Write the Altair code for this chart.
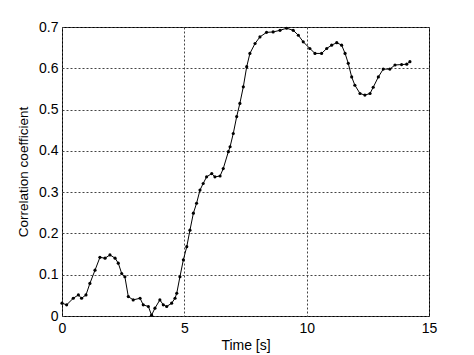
import altair as alt
import pandas as pd

time_s = [0.0, 0.19, 0.46, 0.67, 0.8, 0.98, 1.14, 1.35, 1.55, 1.76, 1.96, 2.17, 2.3, 2.44,
          2.57, 2.71, 2.91, 3.19, 3.32, 3.53, 3.66, 3.8, 4.0, 4.14, 4.28, 4.48, 4.62, 4.69,
          4.82, 4.96, 5.1, 5.23, 5.37, 5.5, 5.64, 5.77, 5.91, 6.12, 6.25, 6.46, 6.59, 6.8,
          6.87, 7.0, 7.14, 7.27, 7.41, 7.55, 7.68, 7.89, 8.09, 8.36, 8.63, 8.91, 9.18, 9.45,
          9.66, 9.86, 10.13, 10.34, 10.61, 10.82, 11.02, 11.23, 11.43, 11.57, 11.7, 11.84,
          11.97, 12.18, 12.38, 12.59, 12.72, 12.93, 13.13, 13.4, 13.61, 13.88, 14.09, 14.22]
corr = [0.031, 0.027, 0.043, 0.051, 0.043, 0.051, 0.079, 0.111, 0.142, 0.14, 0.148, 0.14,
        0.128, 0.103, 0.095, 0.047, 0.039, 0.043, 0.027, 0.023, 0.002, 0.019, 0.039, 0.027,
        0.023, 0.031, 0.043, 0.055, 0.095, 0.136, 0.168, 0.208, 0.249, 0.273, 0.305, 0.321,
        0.337, 0.345, 0.337, 0.339, 0.357, 0.398, 0.41, 0.442, 0.483, 0.515, 0.555, 0.604,
        0.636, 0.66, 0.676, 0.687, 0.688, 0.692, 0.697, 0.692, 0.68, 0.664, 0.648, 0.636,
        0.636, 0.648, 0.656, 0.662, 0.656, 0.636, 0.612, 0.579, 0.559, 0.539, 0.535, 0.539,
        0.554, 0.579, 0.598, 0.598, 0.608, 0.609, 0.61, 0.616]

x_ticks = [0, 5, 10, 15]
y_ticks = [0, 0.1, 0.2, 0.3, 0.4, 0.5, 0.6, 0.7]

df = pd.DataFrame({"t": time_s, "r": corr})

FONT = "Liberation Sans"
common = dict(grid=True, ticks=False, domain=False, labelFlush=False,
              titleFontWeight="normal", gridColor="#444", gridDash=[2, 2], gridWidth=1,
              labelColor="black", titleColor="black", labelFont=FONT, titleFont=FONT,
              labelFontSize=14)

x = alt.X("t:Q", scale=alt.Scale(domain=[0, 15], nice=False, zero=False),
          axis=alt.Axis(values=x_ticks, title="Time [s]", titleFontSize=14,
                        labelPadding=5, titlePadding=3, **common))
y = alt.Y("r:Q", scale=alt.Scale(domain=[0, 0.7], nice=False),
          axis=alt.Axis(values=y_ticks, title="Correlation coefficient", titleFontSize=13.5,
                        labelPadding=4, titlePadding=8,
                        labelExpr="datum.value == 0 ? '0' : format(datum.value, '.1f')",
                        **common))

line = alt.Chart(df).mark_line(color="black", strokeWidth=1).encode(x=x, y=y)
pts = alt.Chart(df).mark_point(filled=True, color="black", size=10, opacity=1).encode(x=x, y=y)

chart = (line + pts).properties(
    width=367, height=289,
    background="white",
    autosize=alt.AutoSizeParams(type="none"),
    padding={"left": 62, "top": 27, "right": 45, "bottom": 39},
).configure_view(stroke="black", strokeWidth=1)

chart.save("out.html", embed_options={"renderer": "svg", "actions": False})
